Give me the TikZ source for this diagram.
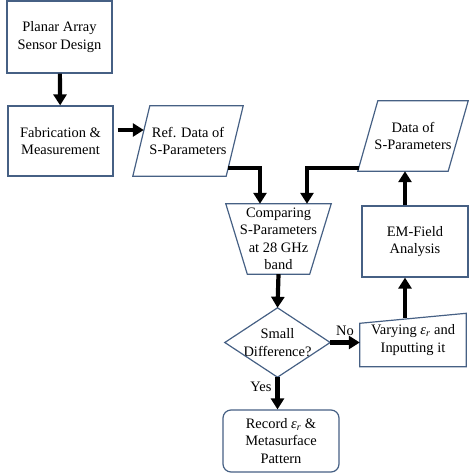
\documentclass[tikz,border=0pt]{standalone}
\usepackage{fontspec}
\setmainfont{Liberation Serif}
\usetikzlibrary{arrows.meta}
\definecolor{boxline}{RGB}{70,96,132}

\newcommand{\epsr}{\textit{ε}\textsubscript{\textit{r}}}

\begin{document}
\begin{tikzpicture}[x=1bp, y=-1bp,
        font=\fontsize{14.5}{17.5}\selectfont,
        every node/.style={inner sep=0pt, align=center},
        process/.style={shape=rectangle, draw=boxline, line width=1.2pt, minimum width=105bp, minimum height=70bp},
        blank/.style={shape=rectangle, minimum width=105bp, minimum height=70bp},
        outline/.style={draw=boxline, line width=1.2pt},
        terminal/.style={shape=rectangle, rounded corners=8bp, draw=boxline, line width=1.2pt, minimum width=116bp, minimum height=62bp},
        flow/.style={line width=4.2bp, -{Triangle[length=11bp, width=13bp]}}]
    \useasboundingbox (0,0) rectangle (474,474);

    \node[process, minimum height=72bp] (design) at (59.5, 37) {Planar Array\\Sensor Design};
    \node[process] (fab) at (60.5, 141) {Fabrication \&\\Measurement};
    \node[blank, minimum width=110bp] (ref) at (188, 141) {Ref. Data of\\S-Parameters};
    \node[blank, minimum width=110bp] (data) at (413, 136) {Data of\\S-Parameters};
    \node[blank] (cmp) at (278.5, 239) {Comparing\\S-Parameters\\at 28 GHz\\band};
    \node[process, minimum width=106bp, minimum height=71bp] (em) at (415, 241.5) {EM-Field\\Analysis};
    \node[blank, minimum height=69bp] (diff) at (277.5, 342.5) {Small\\Difference?};
    \node[blank, minimum width=106bp, minimum height=53bp] (vary) at (413, 340) {Varying \epsr{} and\\Inputting it};
    \node[terminal] (record) at (281, 441) {Record \epsr{} \&\\Metasurface\\Pattern};

    % outlines of the slanted shapes
    \draw[outline] (ref.south west) -- ([xshift=-17bp]ref.south east) -- (ref.north east) -- ([xshift=17bp]ref.north west) -- cycle;
    \draw[outline] (data.south west) -- ([xshift=-20bp]data.south east) -- (data.north east) -- ([xshift=20bp]data.north west) -- cycle;
    \draw[outline] (cmp.north west) -- (cmp.north east) -- ([xshift=-21.5bp]cmp.south east) -- ([xshift=21.5bp]cmp.south west) -- cycle;
    \draw[outline] (diff.north) -- (diff.east) -- (diff.south) -- (diff.west) -- cycle;
    \draw[outline] (vary.south west) -- (vary.south east) -- (vary.north east) -- ([yshift=-10bp]vary.north west) -- cycle;

    \draw[flow] (design) -- (fab);
    \draw[flow] ([xshift=4bp, yshift=11bp]fab.east) -- ([xshift=11bp, yshift=11bp]ref.west);
    \draw[flow] ([xshift=-15bp, yshift=8bp]ref.south east) -| ([xshift=-18.5bp]cmp.north);
    \draw[flow] ([xshift=1bp, yshift=3bp]data.south west) -| ([xshift=28.5bp]cmp.north);
    \draw[flow] (cmp.south) -- (diff.north);
    \draw[flow] (diff.east) -- (diff.east -| vary.west) node[midway, above=5bp] {No};
    \draw[flow] (diff.south) -- (diff.south |- record.north) node[pos=0.3, left=4bp] {Yes};
    \draw[flow] ([xshift=-8bp, yshift=-5bp]vary.north) -- ([xshift=-8bp]vary.north |- em.south);
    \draw[flow] ([xshift=-10bp]em.north) -- ([xshift=-10bp]em.north |- data.south);
\end{tikzpicture}
\end{document}
